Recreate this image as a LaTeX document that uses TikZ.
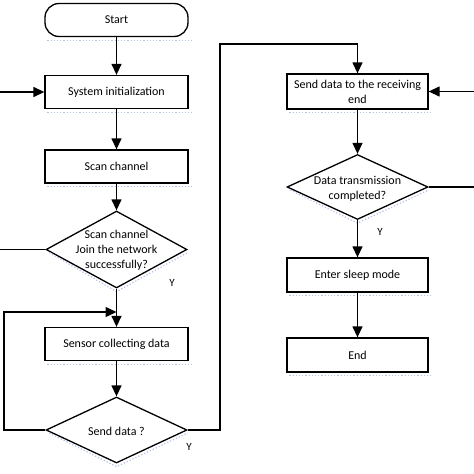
\documentclass[tikz,border=0pt]{standalone}
\usepackage{fontspec}
\setmainfont{Carlito}
\usetikzlibrary{shapes.geometric,arrows.meta}
\newcommand{\dtext}[2][-4pt]{\smash{\makebox[0pt]{\raisebox{#1}{\begin{tabular}{@{}c@{}}#2\end{tabular}}}}}
\begin{document}
\begin{tikzpicture}[x=1pt,y=-1pt,
  every node/.style={font=\fontsize{12}{15}\selectfont},
  line/.style={draw=black, line width=1.3pt},
  arr/.style={line, -{Triangle[length=11pt,width=10pt]}},
  box/.style={draw, line width=1.3pt, minimum width=143pt, minimum height=33pt, inner sep=1pt, align=center},
  term/.style={box, rounded corners=14pt},
  dec/.style={draw, line width=1.3pt, shape=diamond, inner sep=0pt, align=center},
  shadowline/.style={draw=cyan!40!blue!30, line width=1.2pt, dotted},
  lab/.style={font=\fontsize{11}{12}\selectfont}
]
\useasboundingbox (0,0) rectangle (474,474);
% left column
\node[term] (start) at (116.5,20) {Start};
\node[box] (init) at (116.5,92) {System initialization};
\node[box] (scan) at (116.5,166.5) {Scan channel};
\node[dec, minimum width=141pt, minimum height=77pt, aspect=1.83] (d1) at (116.5,249.5) {\dtext[-4pt]{\fontsize{12}{14.5}\selectfont Scan channel\\Join the network\\successfully?}};
\node[box] (sensor) at (116.5,344) {Sensor collecting data};
\node[dec, minimum width=141pt, minimum height=66pt, aspect=2.14] (d2) at (116.5,430) {\dtext[-5pt]{Send data ?}};
% right column
\node[box, minimum width=141pt, minimum height=35pt, inner sep=0pt] (send) at (357.5,91.5) {Send data to the receiving\\end};
\node[dec, minimum width=141pt, minimum height=65pt, aspect=2.14] (d3) at (357.5,187) {\dtext[-5pt]{\fontsize{12}{17}\selectfont Data transmission\\completed?}};
\node[box, minimum width=141pt, minimum height=34pt] (sleep) at (357.5,275) {Enter sleep mode};
\node[box, minimum width=141pt, minimum height=34pt] (end) at (357.5,355) {End};
% shadows
\foreach \n in {start,init,scan,sensor,send,sleep,end}{
  \draw[shadowline] ([yshift=-3pt,xshift=3pt]\n.south west) -- ([yshift=-3pt,xshift=3pt]\n.south east);
}
\foreach \n in {d1,d2,d3}{
  \draw[shadowline] ([yshift=-3pt,xshift=4pt]\n.west) -- ([yshift=-3pt]\n.south) -- ([yshift=-3pt]\n.east);
}
% coordinates
\coordinate (inL) at (0,92);
\coordinate (d1L) at (0,249.5);
\coordinate (loopX) at (4,312);
\coordinate (merge) at (116.5,312);
\coordinate (topC) at (220,44);
\coordinate (rin) at (474,91.5);
\coordinate (d3R) at (474,187);
% connectors
\draw[arr] (start) -- (init);
\draw[arr] (inL) -- (init.west);
\draw[arr] (init) -- (scan);
\draw[arr] (scan) -- (d1.north);
\draw[line] (d1.west) -- (d1L);
\draw[arr] (d1.south) -- (sensor.north);
\draw[arr] (d2.west) -- (d2.west -| loopX) -- (loopX) -- (merge);
\draw[arr] (sensor) -- (d2.north);
\draw[arr] (d2.east) -- (d2.east -| topC) -- (topC) -| (send.north);
\draw[arr] (rin) -- (send.east);
\draw[arr] (send) -- (d3.north);
\draw[line] (d3.east) -- (d3R);
\draw[arr] (d3.south) -- (sleep.north);
\draw[arr] (sleep) -- (end);
% labels
\node[lab] (y1) at (172,283) {Y};
\node[lab] (y2) at (189,447) {Y};
\node[lab] (y3) at (380,232) {Y};
\end{tikzpicture}
\end{document}
